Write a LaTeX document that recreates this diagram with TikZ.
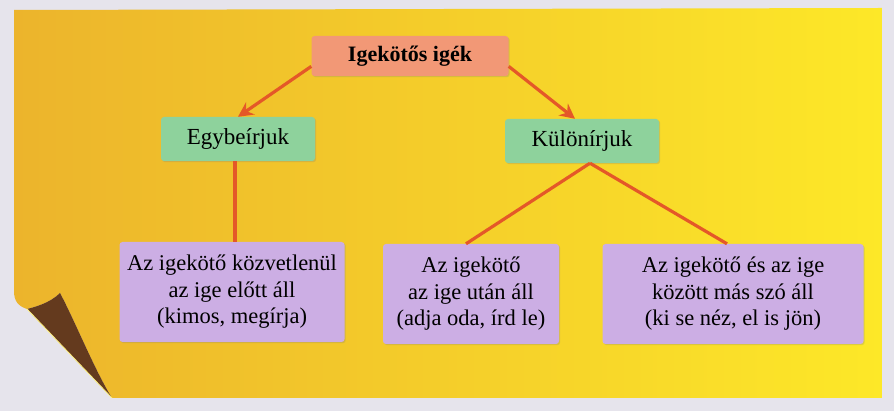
\documentclass[tikz,border=0pt]{standalone}
\usepackage{fontspec}
\setmainfont{Liberation Serif}
\usetikzlibrary{arrows.meta, shapes, positioning, shadows}
\definecolor{notegold}{RGB}{236,180,44}
\definecolor{notemid}{RGB}{250,218,30}
\definecolor{noteyellow}{RGB}{253,232,40}
\definecolor{curlbrown}{RGB}{100,58,30}
\definecolor{linkred}{RGB}{228,88,40}
\definecolor{salmon}{RGB}{242,152,118}
\definecolor{mintgreen}{RGB}{142,210,156}
\definecolor{lavender}{RGB}{204,174,228}
\definecolor{pagegrey}{RGB}{230,228,236}

\begin{document}
\begin{tikzpicture}[x=1pt, y=1pt,
                line join=round,
                boxnode/.style={shape=rectangle, rounded corners=3pt, align=center, inner sep=0pt, drop shadow={opacity=0.25, shadow xshift=1.2pt, shadow yshift=-1.2pt}},
                titlenode/.style={boxnode, fill=salmon, minimum width=197pt, minimum height=40pt, font=\fontsize{22}{26}\selectfont\bfseries},
                greennode/.style={boxnode, fill=mintgreen, minimum width=154pt, minimum height=44pt, font=\fontsize{23}{26}\selectfont},
                purplenode/.style={boxnode, fill=lavender, minimum height=100pt, font=\fontsize{22.5}{26.5}\selectfont},
                link/.style={draw=linkred, line width=3.2pt}
            ]
                % Page and sticky note
                \useasboundingbox (0,0) rectangle (894,411);
                \fill[pagegrey] (0,0) rectangle (894,411);
                \shade[left color=notegold, middle color=notemid, right color=noteyellow]
                    (14,401) -- (882,403) -- (882,13) -- (112,13)
                    .. controls (95,40) and (75,90) .. (60,118)
                    .. controls (50,108) and (35,104) .. (27,102)
                    .. controls (18,105) and (14,110) .. (14,120) -- cycle;
                \fill[curlbrown] (27,102) .. controls (35,104) and (50,108) .. (60,118)
                    .. controls (75,90) and (95,40) .. (112,13) -- cycle;
                \draw[noteyellow!60!white, line width=0.8pt] (27,102) -- (112,13);

                % Boxes
                \node[titlenode] (title) at (410,355) {Igekötős igék};
                \node[greennode] (egybe) at (238,272) {Egybeírjuk};
                \node[greennode] (kulon) at (582,270) {Különírjuk};
                \node[purplenode, minimum width=225pt] (elott) at (232,119) {Az igekötő közvetlenül\\az ige előtt áll\\(kimos, megírja)};
                \node[purplenode, minimum width=176pt] (utan) at (471,117) {Az igekötő\\az ige után áll\\(adja oda, írd le)};
                \node[purplenode, minimum width=261pt] (kozott) at (733,117) {Az igekötő és az ige\\között más szó áll\\(ki se néz, el is jön)};

                % Links
                \draw[link, -{Stealth[length=15pt, width=15pt, inset=5pt]}] (title.186) -- (egybe.north);
                \draw[link, -{Stealth[length=15pt, width=15pt, inset=5pt]}] (title.354) -- ([xshift=-7pt]kulon.north);
                \draw[link] ([xshift=-3pt]egybe.south) -- ([xshift=-3pt]egybe.south |- elott.north);
                \draw[link] ([xshift=8pt]kulon.south) -- ([xshift=-5pt]utan.north);
                \draw[link] ([xshift=8pt]kulon.south) -- ([xshift=-6pt]kozott.north);
            \end{tikzpicture}
\end{document}
